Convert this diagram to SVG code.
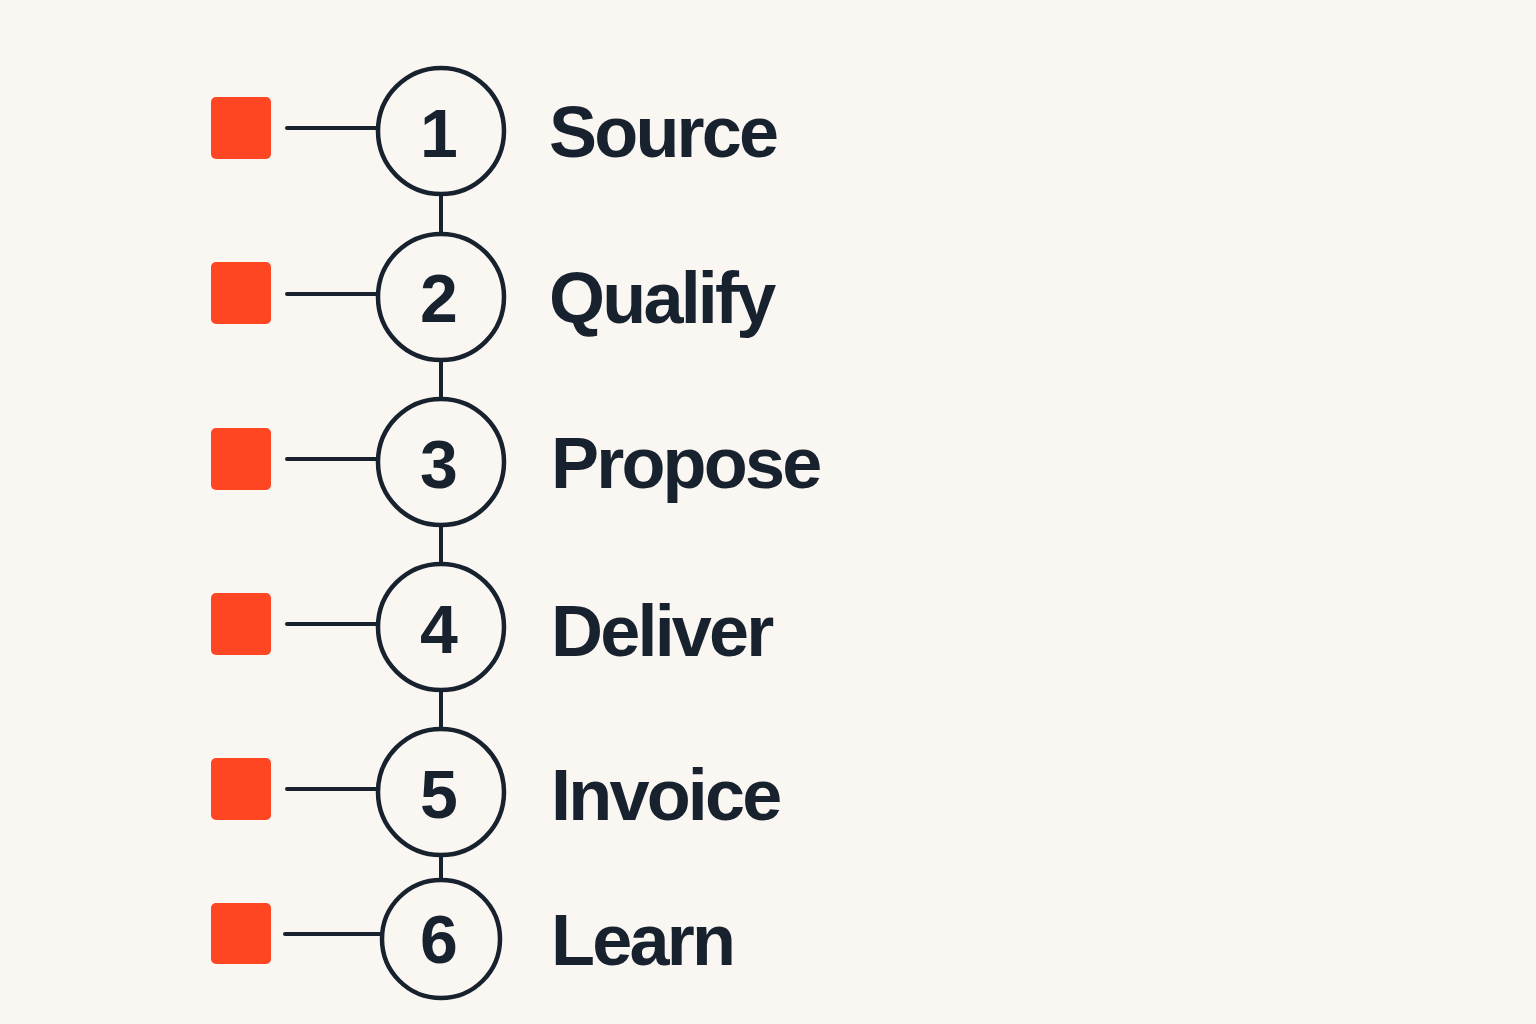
<svg xmlns="http://www.w3.org/2000/svg" width="1536" height="1024" viewBox="0 0 1536 1024">
<style>
.bg{fill:#FAF7F2}
.sq{fill:#FF4622}
.ring{fill:none;stroke:#18222E;stroke-width:4.5}
.ln{stroke:#18222E;stroke-width:4;stroke-linecap:round;fill:none}
.num{font-family:"Liberation Sans",Arial,sans-serif;font-weight:700;font-size:68px;fill:#18222E;text-anchor:middle}
.lbl{font-family:"Liberation Sans",Arial,sans-serif;font-weight:700;font-size:72px;fill:#18222E;letter-spacing:-2.8px}
</style>
<rect class="bg" x="0" y="0" width="1536" height="1024"/>
<g id="connectors">
<line class="ln" x1="287" y1="128" x2="378" y2="128"/>
<line class="ln" x1="287" y1="294" x2="378" y2="294"/>
<line class="ln" x1="287" y1="459" x2="378" y2="459"/>
<line class="ln" x1="287" y1="624" x2="378" y2="624"/>
<line class="ln" x1="287" y1="789" x2="378" y2="789"/>
<line class="ln" x1="285" y1="934" x2="381" y2="934"/>
<line class="ln" x1="441" y1="194" x2="441" y2="234"/>
<line class="ln" x1="441" y1="360" x2="441" y2="399"/>
<line class="ln" x1="441" y1="525" x2="441" y2="564"/>
<line class="ln" x1="441" y1="690" x2="441" y2="729"/>
<line class="ln" x1="441" y1="855" x2="441" y2="880"/>
</g>
<g id="step1">
<rect class="sq" x="211" y="97" width="60" height="62" rx="5"/>
<circle class="ring" cx="441" cy="131" r="63"/>
<text class="num" x="439" y="157">1</text>
<text class="lbl" x="549" y="157">Source</text>
</g>
<g id="step2">
<rect class="sq" x="211" y="262" width="60" height="62" rx="5"/>
<circle class="ring" cx="441" cy="297" r="63"/>
<text class="num" x="439" y="322">2</text>
<text class="lbl" x="549" y="323">Qualify</text>
</g>
<g id="step3">
<rect class="sq" x="211" y="428" width="60" height="62" rx="5"/>
<circle class="ring" cx="441" cy="462" r="63"/>
<text class="num" x="439" y="488">3</text>
<text class="lbl" x="551" y="488">Propose</text>
</g>
<g id="step4">
<rect class="sq" x="211" y="593" width="60" height="62" rx="5"/>
<circle class="ring" cx="441" cy="627" r="63"/>
<text class="num" x="439" y="653">4</text>
<text class="lbl" x="551" y="656">Deliver</text>
</g>
<g id="step5">
<rect class="sq" x="211" y="758" width="60" height="62" rx="5"/>
<circle class="ring" cx="441" cy="792" r="63"/>
<text class="num" x="439" y="818">5</text>
<text class="lbl" x="551" y="820">Invoice</text>
</g>
<g id="step6">
<rect class="sq" x="211" y="903" width="60" height="61" rx="5"/>
<circle class="ring" cx="441" cy="939" r="59"/>
<text class="num" x="439" y="963">6</text>
<text class="lbl" x="551" y="965">Learn</text>
</g>
</svg>
